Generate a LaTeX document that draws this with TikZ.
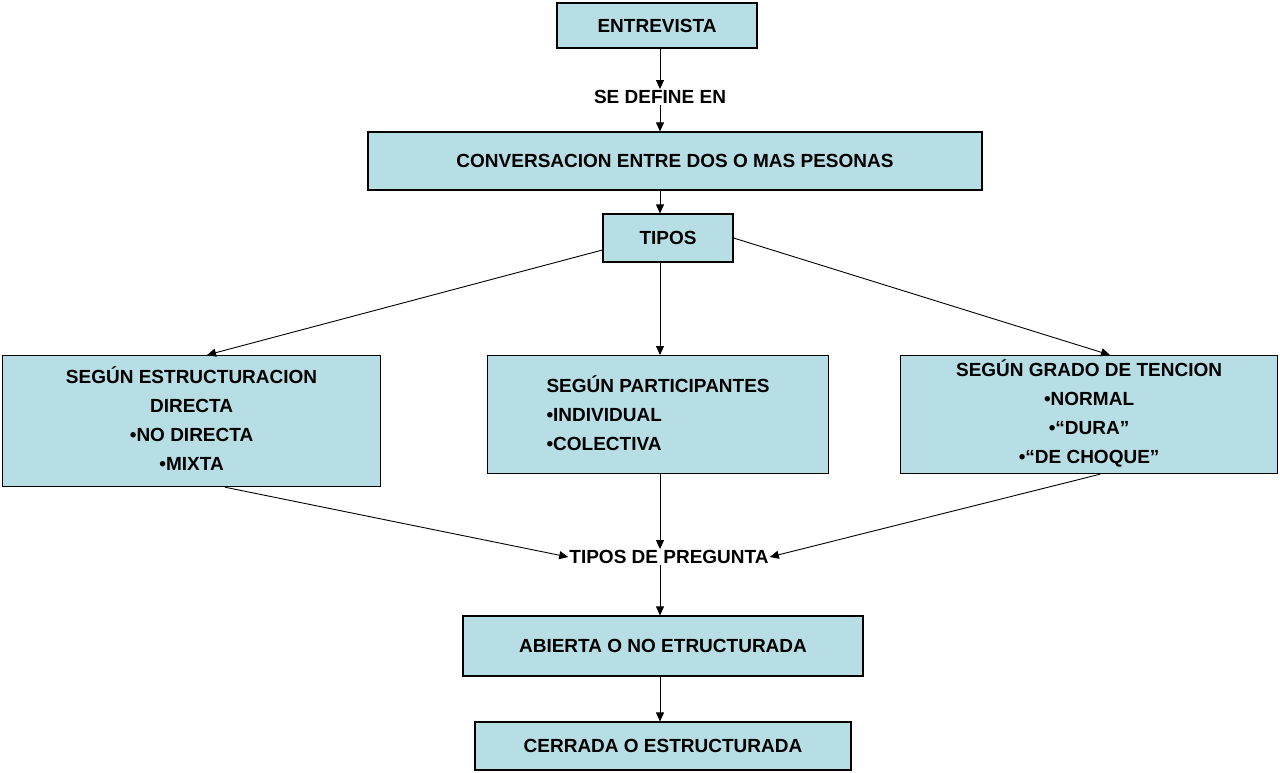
\documentclass[tikz,border=0pt]{standalone}
\usepackage{fontspec}
\setmainfont{Liberation Sans}
\usetikzlibrary{arrows.meta}
\definecolor{boxfill}{RGB}{183,222,228}
\begin{document}
\begin{tikzpicture}[x=1pt,y=-1pt,
  box/.style={draw=black,line width=1.2pt,fill=boxfill,font=\fontsize{19}{29}\selectfont\bfseries,align=center,inner sep=0pt},
  lbl/.style={font=\fontsize{19}{23}\selectfont\bfseries,inner sep=1pt},
  arr/.style={-{Triangle[length=9pt,width=8pt]},line width=0.9pt}]
\useasboundingbox (0,0) rectangle (1280,772);
\node[box,minimum width=200,minimum height=45] (ent) at (657,25.5) {ENTREVISTA};
\node[lbl] (def) at (660,97) {SE DEFINE EN};
\node[box,minimum width=614,minimum height=58] (conv) at (675,161) {CONVERSACION ENTRE DOS O MAS PESONAS};
\node[box,minimum width=130,minimum height=48] (tipos) at (668,238) {TIPOS};
\node[box,minimum width=378,minimum height=131,anchor=north west] (izq) at (2,355) {\raisebox{0pt}{\begin{tabular}{@{}c@{}}SEGÚN ESTRUCTURACION\\DIRECTA\\•NO DIRECTA\\•MIXTA\end{tabular}}};
\node[box,minimum width=341,minimum height=118,anchor=north west] (med) at (487,355) {\begin{tabular}{@{}l@{}}SEGÚN PARTICIPANTES\\•INDIVIDUAL\\•COLECTIVA\\[-2pt]\end{tabular}};
\node[box,minimum width=377,minimum height=118,anchor=north west] (der) at (900,355) {\begin{tabular}{@{}c@{}}SEGÚN GRADO DE TENCION\\•NORMAL\\•“DURA”\\•“DE CHOQUE”\end{tabular}};
\node[lbl] (preg) at (669,557) {TIPOS DE PREGUNTA};
\node[box,minimum width=400,minimum height=60] (abi) at (663,646) {ABIERTA O NO ETRUCTURADA};
\node[box,minimum width=376,minimum height=48] (cer) at (663,746) {CERRADA O ESTRUCTURADA};
\draw[arr] (ent.south -| def) -- (def.north);
\draw[arr] (def.south) -- (conv.north -| def);
\draw[arr] (conv.south -| def) -- (tipos.north -| def);
\draw[arr] (tipos.south west |- 0,250) -- (izq.north -| 207,0);
\draw[arr] (tipos.south -| def) -- (med.north -| def);
\draw[arr] (tipos.east) -- (der.north -| 1110,0);
\draw[arr] (izq.south -| 225,0) -- (preg.west);
\draw[arr] (med.south -| def) -- (preg.north -| def);
\draw[arr] (der.south -| 1100,0) -- (preg.east);
\draw[arr] (preg.south -| def) -- (abi.north -| def);
\draw[arr] (abi.south -| def) -- (cer.north -| def);
\end{tikzpicture}
\end{document}
